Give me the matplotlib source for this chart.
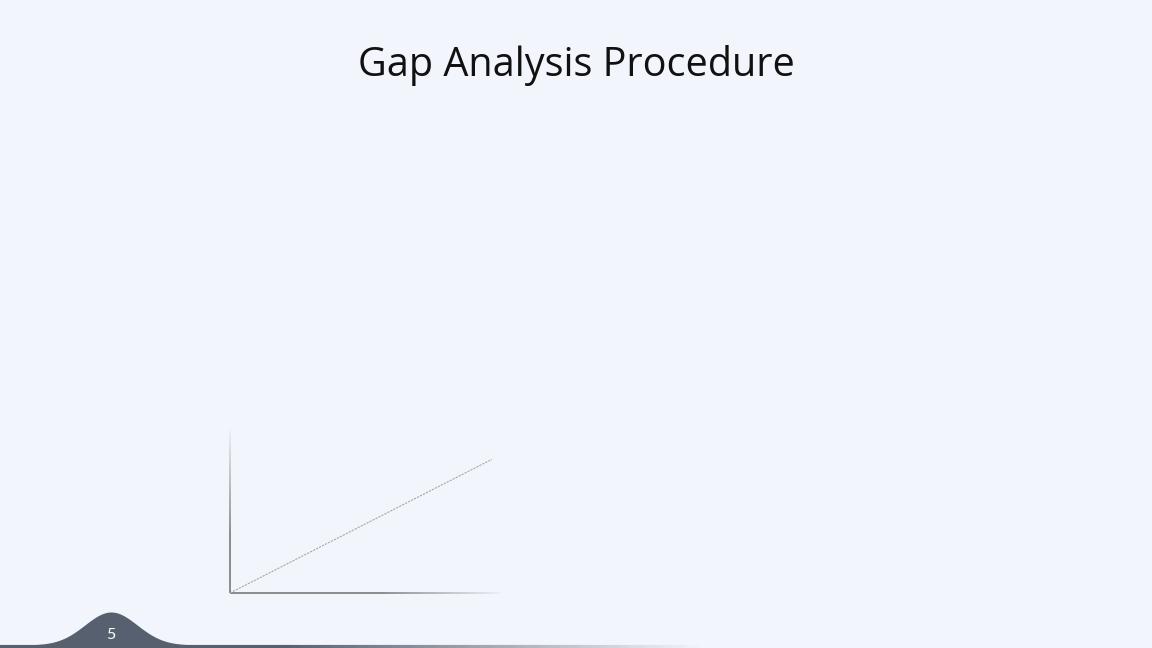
import numpy as np
import matplotlib.pyplot as plt
from matplotlib.collections import LineCollection
from matplotlib.colors import to_rgba

# slide content
title = 'Gap Analysis Procedure'
page_no = '5'

# the single trend line on the small chart
line_x = [0.0, 0.97]
line_y = [0.0, 0.82]

bg = '#F2F5FC'
slate = '#56606F'

fig = plt.figure(figsize=(11.52, 6.48), dpi=100, facecolor=bg)

# full-slide overlay in pixel coords for decoration
deco = fig.add_axes([0, 0, 1, 1])
deco.set_xlim(0, 1152)
deco.set_ylim(648, 0)
deco.axis('off')
deco.set_facecolor('none')

deco.text(576, 66, title, ha='center', va='center', fontsize=28.5,
          family=['Open Sans', 'DejaVu Sans'], color='#111111')

# bump behind the page number
bx = np.linspace(20, 200, 300)
by = 645 - 33 * np.exp(-((bx - 111) / 37) ** 2)
deco.fill_between(bx, by, 648, color=slate, lw=0, zorder=2)
deco.text(111, 635, page_no, ha='center', va='center', fontsize=11.5,
          color='white', family=['Lato', 'DejaVu Sans'], zorder=3)

# bottom bar that fades out to the right
n = 200
xs = np.linspace(0, 700, n + 1)
segs = [[(xs[i], 646.5), (xs[i + 1], 646.5)] for i in range(n)]
base = np.array(to_rgba(slate))
cols = np.tile(base, (n, 1))
t = xs[:-1] / 700
cols[:, 3] = np.clip(1.0 - np.clip((t - 0.4) / 0.6, 0, 1), 0, 1)
deco.add_collection(LineCollection(segs, colors=cols, linewidths=3, zorder=1))

# small chart
ax = fig.add_axes([230 / 1152, 1 - 593 / 648, 270 / 1152, 163 / 648])
ax.set_facecolor('none')
ax.set_xlim(0, 1)
ax.set_ylim(0, 1)
for s in ax.spines.values():
    s.set_visible(False)
ax.set_xticks([])
ax.set_yticks([])

gray = np.array(to_rgba('#7A7A7A'))

# bottom axis line, fading to the right
m = 100
u = np.linspace(0, 1.0, m + 1)
segs = [[(u[i], 0), (u[i + 1], 0)] for i in range(m)]
c = np.tile(gray, (m, 1))
c[:, 3] = 1.0 - np.clip((u[:-1] - 0.55) / 0.45, 0, 1) * 0.95
ax.add_collection(LineCollection(segs, colors=c, linewidths=1.2,
                                 transform=ax.transAxes, clip_on=False))

# left axis line, fading to the top
segs = [[(0, u[i]), (0, u[i + 1])] for i in range(m)]
c = np.tile(gray, (m, 1))
c[:, 3] = 1.0 - np.clip((u[:-1] - 0.35) / 0.65, 0, 1) * 0.95
ax.add_collection(LineCollection(segs, colors=c, linewidths=1.2,
                                 transform=ax.transAxes, clip_on=False))

ax.plot(line_x, line_y, color='#A8A8A8', lw=0.8, dashes=(2, 1), clip_on=False)

fig.savefig('out.png', dpi=100, facecolor=bg)
